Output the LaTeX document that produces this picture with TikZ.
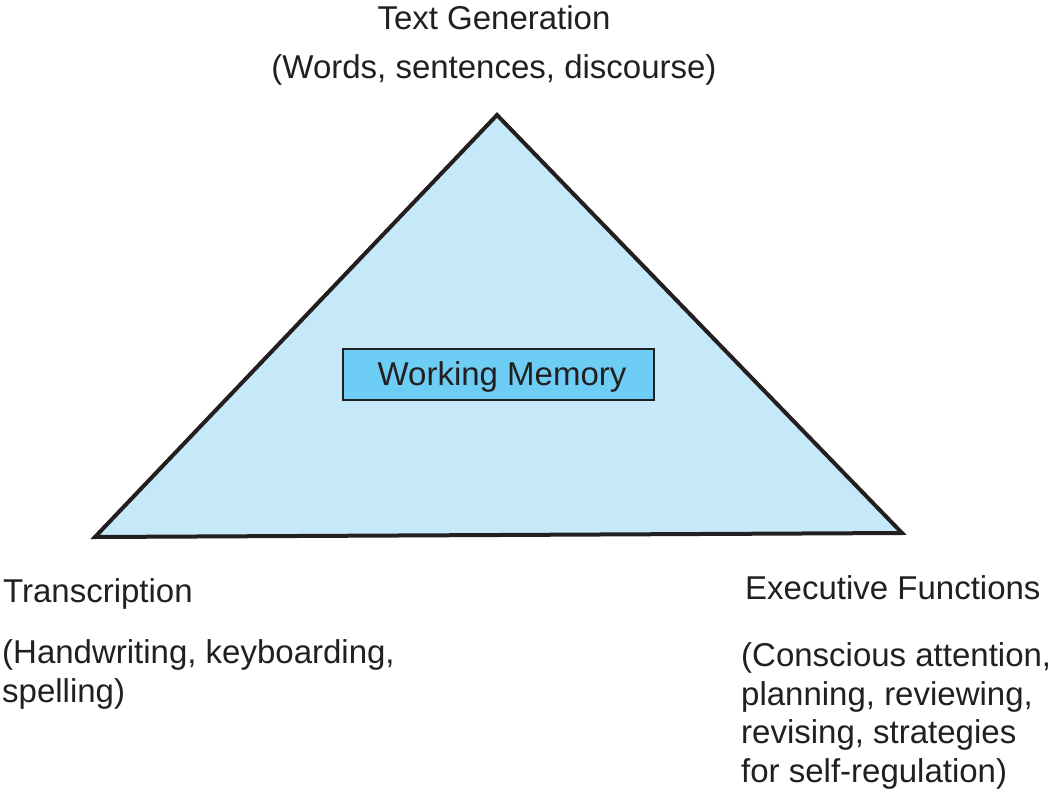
\documentclass[tikz,border=0pt]{standalone}
\usepackage{fontspec}
\setmainfont{Liberation Sans}
\definecolor{paleblue}{HTML}{C6E9FA}
\definecolor{boxblue}{HTML}{6DCDF4}
\definecolor{inkdark}{HTML}{231F20}

\begin{document}
\begin{tikzpicture}[x=1pt, y=-1pt,
  every node/.style={inner sep=0pt, text=inkdark, font=\fontsize{33}{38.5}\selectfont},
  corner label/.style={anchor=base west, align=left},
  memory box/.style={draw=inkdark, line width=2pt, fill=boxblue, minimum width=311pt, minimum height=51pt}]
  \useasboundingbox (0,0) rectangle (1053,795);
  \coordinate (apex) at (497,115);
  \coordinate (leftcorner) at (95,537);
  \coordinate (rightcorner) at (902,533);
  \draw[line width=4pt, line join=miter, draw=inkdark, fill=paleblue]
    (apex) -- (rightcorner) -- (leftcorner) -- cycle;
  \node[memory box] (memory) at (498.5,374.5) {};
  \node[anchor=base] (wmtext) at (502,385) {Working Memory};
  \node[anchor=base] (textgen) at (494,29) {Text Generation};
  \node[anchor=base] (textgendetail) at (494,78) {(Words, sentences, discourse)};
  \node[corner label] (transcription) at (3,602) {Transcription};
  % base of a multi-line label sits on its last line
  \node[corner label] (transcriptiondetail) at (2,702) {(Handwriting, keyboarding,\\spelling)};
  \node[corner label] (executive) at (745,599) {Executive Functions};
  \node[corner label] (executivedetail) at (741,782) {(Conscious attention,\\planning, reviewing,\\revising, strategies\\for self-regulation)};
\end{tikzpicture}
\end{document}
